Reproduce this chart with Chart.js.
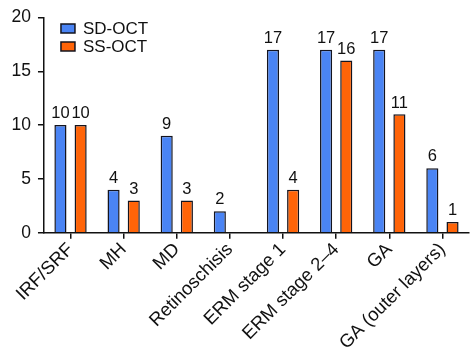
<!DOCTYPE html>
<html>
<head>
<meta charset="utf-8">
<script src="https://cdn.jsdelivr.net/npm/chart.js@4"></script>
<style>
  html, body { margin: 0; padding: 0; background: #fff; }
  #wrap { width: 474px; height: 354px; }
</style>
</head>
<body>
<div id="wrap"><canvas id="barChart" width="474" height="354"></canvas></div>
<script>
const categories = ['IRF/SRF', 'MH', 'MD', 'Retinoschisis', 'ERM stage 1', 'ERM stage 2\u20134', 'GA', 'GA (outer layers)'];
const sdOct = [10, 4, 9, 2, 17, 17, 17, 6];
const ssOct = [10, 3, 3, 0, 4, 16, 11, 1];
const yTicks = [0, 5, 10, 15, 20];

const FONT = 'Liberation Sans, Arial, Helvetica, sans-serif';

// values over the bars
const valueLabels = {
  id: 'valueLabels',
  afterDatasetsDraw(chart) {
    const ctx = chart.ctx;
    ctx.save();
    ctx.font = '16.5px ' + FONT;
    ctx.fillStyle = '#111';
    ctx.textAlign = 'center';
    ctx.textBaseline = 'bottom';
    chart.data.datasets.forEach((ds, i) => {
      chart.getDatasetMeta(i).data.forEach((bar, j) => {
        if (!ds.data[j]) return;
        ctx.fillText(ds.data[j], bar.x, bar.y - 3);
      });
    });
    ctx.restore();
  }
};

// legend drawn inside the plot, top-left
const innerLegend = {
  id: 'innerLegend',
  afterDraw(chart) {
    const ctx = chart.ctx;
    const x0 = chart.chartArea.left + 17;
    let y = chart.chartArea.top + 11;
    ctx.save();
    ctx.font = '17px ' + FONT;
    ctx.textBaseline = 'middle';
    chart.data.datasets.forEach(ds => {
      ctx.fillStyle = ds.backgroundColor;
      ctx.fillRect(x0, y - 4.5, 14, 9);
      ctx.strokeStyle = ds.borderColor;
      ctx.lineWidth = 1.5;
      ctx.strokeRect(x0, y - 4.5, 14, 9);
      ctx.fillStyle = '#111';
      ctx.fillText(ds.label, x0 + 22, y + 1);
      y += 18;
    });
    ctx.restore();
  }
};

new Chart(document.getElementById('barChart'), {
  type: 'bar',
  data: {
    labels: categories,
    datasets: [
      {
        label: 'SD-OCT',
        data: sdOct,
        backgroundColor: '#4a84f4',
        borderColor: '#14141e',
        borderWidth: 1.5,
        categoryPercentage: 0.76,
        barPercentage: 0.6
      },
      {
        label: 'SS-OCT',
        data: ssOct,
        backgroundColor: '#ff6408',
        borderColor: '#14141e',
        borderWidth: 1.5,
        categoryPercentage: 0.76,
        barPercentage: 0.6
      }
    ]
  },
  options: {
    responsive: false,
    animation: false,
    layout: { padding: { top: 1, right: 5, left: 4.5, bottom: 0 } },
    plugins: {
      legend: { display: false },
      tooltip: { enabled: false }
    },
    scales: {
      x: {
        afterFit: axis => { axis.paddingLeft = 0; },
        grid: { display: true, drawOnChartArea: false, offset: false, color: '#111', tickLength: 6, lineWidth: 1.5 },
        border: { color: '#111', width: 1.5 },
        ticks: {
          color: '#111',
          font: { family: FONT, size: 18.5 },
          maxRotation: 45,
          minRotation: 45,
          padding: 0
        }
      },
      y: {
        min: 0,
        max: 20,
        afterBuildTicks: axis => { axis.ticks = yTicks.map(v => ({ value: v })); },
        grid: { display: true, drawOnChartArea: false, color: '#111', tickLength: 6, lineWidth: 1.5 },
        border: { color: '#111', width: 1.5 },
        ticks: {
          color: '#111',
          font: { family: FONT, size: 17.5 },
          padding: 7
        }
      }
    }
  },
  plugins: [valueLabels, innerLegend]
});
</script>
</body>
</html>
